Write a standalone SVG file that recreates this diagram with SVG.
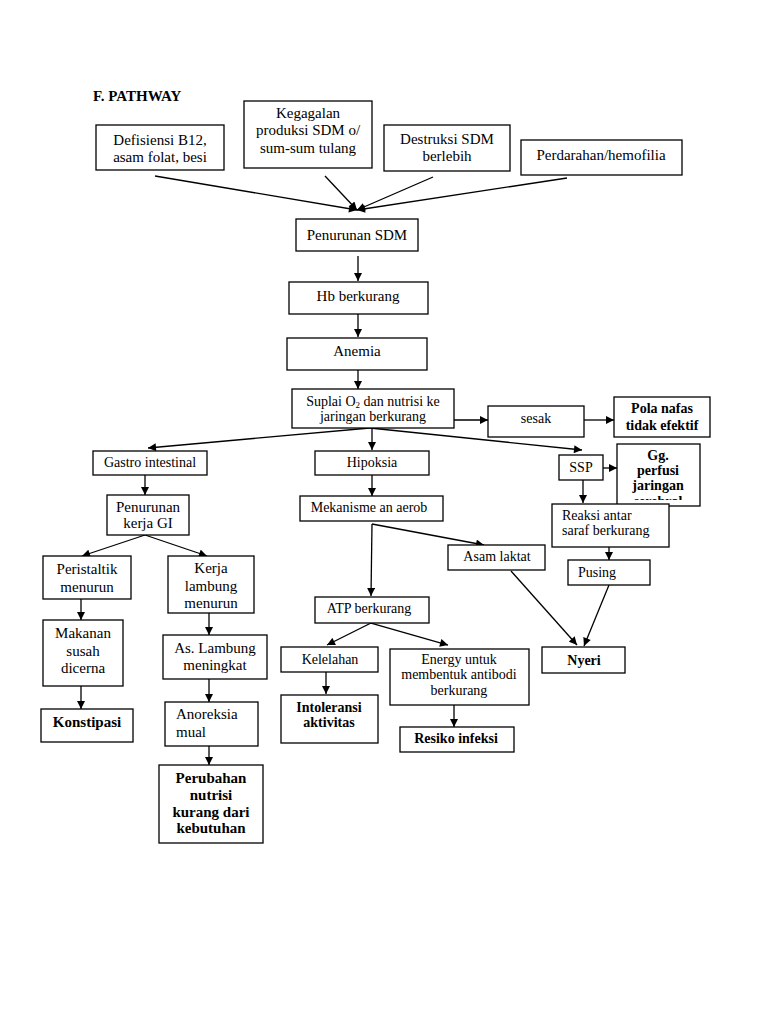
<svg xmlns="http://www.w3.org/2000/svg" width="768" height="1024" viewBox="0 0 768 1024">
<style>
.b{fill:#fff;stroke:#000;stroke-width:1.3}
.t{font-family:"Liberation Serif","Times New Roman",serif;font-size:14px;fill:#000;text-anchor:middle}
.l{text-anchor:start}
.m{font-size:15px}
.bd{font-weight:bold}
.c{fill:none;stroke:#000;stroke-width:1.3;marker-end:url(#ah)}
</style>
<defs>
<marker id="ah" viewBox="0 0 10 10" refX="10" refY="5" markerWidth="9" markerHeight="8" orient="auto" markerUnits="userSpaceOnUse"><path d="M0,0 L10,5 L0,10 z" fill="#000"/></marker>
<clipPath id="ggclip"><rect x="617" y="444" width="83" height="56"/></clipPath>
</defs>
<rect width="768" height="1024" fill="#fff"/>
<text x="93" y="101" class="t l bd m">F. PATHWAY</text>

<g id="connectors">
<line class="c" x1="155" y1="176" x2="357" y2="210"/>
<line class="c" x1="325" y1="176" x2="357" y2="210"/>
<line class="c" x1="433" y1="177" x2="357" y2="210"/>
<line class="c" x1="567" y1="178" x2="357" y2="210"/>
<line class="c" x1="358" y1="256" x2="358" y2="281"/>
<line class="c" x1="358" y1="314" x2="358" y2="337"/>
<line class="c" x1="358" y1="370" x2="358" y2="389"/>
<line class="c" x1="454" y1="420" x2="488" y2="420"/>
<line class="c" x1="584" y1="420" x2="614" y2="420"/>
<line class="c" x1="370" y1="428" x2="148" y2="448"/>
<line class="c" x1="372" y1="428" x2="372" y2="450"/>
<line class="c" x1="370" y1="428" x2="582" y2="450"/>
<line class="c" x1="145" y1="475" x2="145" y2="495"/>
<line class="c" x1="145" y1="535" x2="82" y2="556"/>
<line class="c" x1="145" y1="535" x2="207" y2="556"/>
<line class="c" x1="81" y1="599" x2="81" y2="620"/>
<line class="c" x1="81" y1="686" x2="81" y2="709"/>
<line class="c" x1="209" y1="613" x2="209" y2="635"/>
<line class="c" x1="209" y1="679" x2="209" y2="702"/>
<line class="c" x1="209" y1="746" x2="209" y2="765"/>
<line class="c" x1="372" y1="475" x2="372" y2="496"/>
<polyline class="c" points="372,524 371,596"/>
<line class="c" x1="372" y1="524" x2="484" y2="545"/>
<line class="c" x1="371" y1="623" x2="327" y2="645"/>
<line class="c" x1="371" y1="623" x2="448" y2="645"/>
<line class="c" x1="326" y1="672" x2="326" y2="694"/>
<line class="c" x1="454" y1="705" x2="454" y2="727"/>
<line class="c" x1="511" y1="571" x2="577" y2="645"/>
<line class="c" x1="609" y1="585" x2="584" y2="646"/>
<line class="c" x1="603" y1="468" x2="617" y2="468"/>
<line class="c" x1="583" y1="480" x2="583" y2="503"/>
<line class="c" x1="609" y1="547" x2="609" y2="560"/>
</g>

<g id="n-defisiensi"><rect class="b" x="96" y="125" width="128" height="45"/>
<text class="t m" x="160" y="145">Defisiensi B12,</text><text class="t m" x="160" y="162">asam folat, besi</text></g>
<g id="n-kegagalan"><rect class="b" x="244" y="101" width="128" height="67"/>
<text class="t m" x="308" y="118">Kegagalan</text><text class="t m" x="308" y="135">produksi SDM o/</text><text class="t m" x="308" y="153">sum-sum tulang</text></g>
<g id="n-destruksi"><rect class="b" x="384" y="125" width="126" height="46"/>
<text class="t m" x="447" y="144">Destruksi SDM</text><text class="t m" x="447" y="161">berlebih</text></g>
<g id="n-perdarahan"><rect class="b" x="521" y="140" width="161" height="35"/>
<text class="t m" x="601" y="160">Perdarahan/hemofilia</text></g>

<g id="n-penurunan-sdm"><rect class="b" x="296" y="219" width="122" height="32"/>
<text class="t m" x="357" y="240">Penurunan SDM</text></g>
<g id="n-hb"><rect class="b" x="289" y="282" width="139" height="32"/>
<text class="t m" x="358" y="301">Hb berkurang</text></g>
<g id="n-anemia"><rect class="b" x="287" y="338" width="140" height="32"/>
<text class="t m" x="357" y="356">Anemia</text></g>
<g id="n-suplai"><rect class="b" x="292" y="389" width="162" height="39"/>
<text class="t" x="373" y="406">Suplai O<tspan font-size="9" dy="2">2</tspan><tspan dy="-2"> dan nutrisi ke</tspan></text>
<text class="t" x="373" y="421">jaringan berkurang</text></g>
<g id="n-sesak"><rect class="b" x="488" y="406" width="96" height="31"/>
<text class="t" x="536" y="423">sesak</text></g>
<g id="n-pola"><rect class="b" x="614" y="397" width="96" height="40"/>
<text class="t bd" x="662" y="413">Pola nafas</text><text class="t bd" x="662" y="430">tidak efektif</text></g>

<g id="n-gastro"><rect class="b" x="93" y="451" width="114" height="24"/>
<text class="t" x="150" y="467">Gastro intestinal</text></g>
<g id="n-hipoksia"><rect class="b" x="315" y="451" width="114" height="24"/>
<text class="t" x="372" y="467">Hipoksia</text></g>
<g id="n-ssp"><rect class="b" x="559" y="455" width="44" height="25"/>
<text class="t" x="581" y="472">SSP</text></g>
<g id="n-gg"><rect class="b" x="617" y="444" width="83" height="62"/>
<g clip-path="url(#ggclip)"><text class="t bd" x="658" y="460">Gg.</text><text class="t bd" x="658" y="475">perfusi</text><text class="t bd" x="658" y="490">jaringan</text><text class="t bd" x="658" y="506">serebral</text></g></g>
<g id="n-reaksi"><rect class="b" x="552" y="504" width="117" height="43"/>
<text class="t l" x="562" y="520">Reaksi antar</text><text class="t l" x="562" y="535">saraf berkurang</text></g>
<g id="n-pusing"><rect class="b" x="568" y="560" width="82" height="25"/>
<text class="t l" x="578" y="577">Pusing</text></g>

<g id="n-penurunan-gi"><rect class="b" x="107" y="495" width="82" height="40"/>
<text class="t m" x="148" y="512">Penurunan</text><text class="t m" x="148" y="528">kerja GI</text></g>
<g id="n-peristaltik"><rect class="b" x="43" y="556" width="88" height="43"/>
<text class="t m" x="87" y="574">Peristaltik</text><text class="t m" x="87" y="592">menurun</text></g>
<g id="n-makanan"><rect class="b" x="43" y="620" width="80" height="66"/>
<text class="t m" x="83" y="638">Makanan</text><text class="t m" x="83" y="656">susah</text><text class="t m" x="83" y="673">dicerna</text></g>
<g id="n-konstipasi"><rect class="b" x="41" y="709" width="92" height="33"/>
<text class="t bd m" x="87" y="727">Konstipasi</text></g>
<g id="n-kerja-lambung"><rect class="b" x="168" y="556" width="86" height="57"/>
<text class="t m" x="211" y="573">Kerja</text><text class="t m" x="211" y="591">lambung</text><text class="t m" x="211" y="608">menurun</text></g>
<g id="n-as-lambung"><rect class="b" x="163" y="635" width="104" height="44"/>
<text class="t m" x="215" y="653">As. Lambung</text><text class="t m" x="215" y="670">meningkat</text></g>
<g id="n-anoreksia"><rect class="b" x="165" y="702" width="93" height="44"/>
<text class="t l m" x="176" y="719">Anoreksia</text><text class="t l m" x="176" y="737">mual</text></g>
<g id="n-perubahan"><rect class="b" x="159" y="765" width="104" height="78"/>
<text class="t bd m" x="211" y="783">Perubahan</text><text class="t bd m" x="211" y="800">nutrisi</text><text class="t bd m" x="211" y="817">kurang dari</text><text class="t bd m" x="211" y="833">kebutuhan</text></g>

<g id="n-mekanisme"><rect class="b" x="300" y="496" width="143" height="25"/>
<text class="t" x="369" y="512">Mekanisme an aerob</text></g>
<g id="n-asam"><rect class="b" x="448" y="545" width="97" height="25"/>
<text class="t" x="497" y="561">Asam laktat</text></g>
<g id="n-atp"><rect class="b" x="315" y="597" width="114" height="26"/>
<text class="t" x="369" y="613">ATP berkurang</text></g>
<g id="n-kelelahan"><rect class="b" x="281" y="647" width="97" height="25"/>
<text class="t" x="330" y="664">Kelelahan</text></g>
<g id="n-intoleransi"><rect class="b" x="281" y="695" width="97" height="48"/>
<text class="t bd" x="329" y="712">Intoleransi</text><text class="t bd" x="329" y="727">aktivitas</text></g>
<g id="n-energy"><rect class="b" x="390" y="649" width="139" height="56"/>
<text class="t" x="459" y="664">Energy untuk</text><text class="t" x="459" y="679">membentuk antibodi</text><text class="t" x="459" y="695">berkurang</text></g>
<g id="n-resiko"><rect class="b" x="400" y="727" width="114" height="25"/>
<text class="t bd" x="456" y="743">Resiko infeksi</text></g>
<g id="n-nyeri"><rect class="b" x="542" y="647" width="83" height="26"/>
<text class="t bd" x="584" y="665">Nyeri</text></g>
</svg>
